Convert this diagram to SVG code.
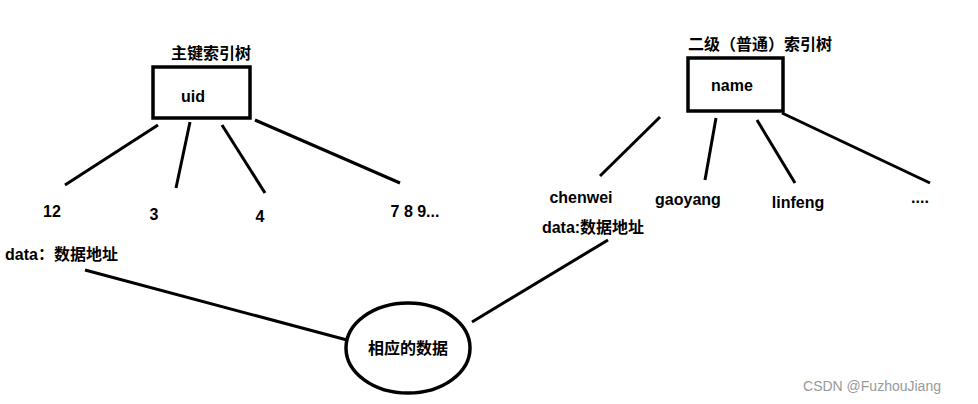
<svg xmlns="http://www.w3.org/2000/svg" width="978" height="404" viewBox="0 0 978 404">
<style>
text{font-family:"Liberation Sans","Noto Sans CJK SC",sans-serif;font-weight:bold;font-size:16px;fill:#000;text-anchor:middle}
text.s{text-anchor:start}
.e{stroke:#000;stroke-width:3;fill:none}
.n{stroke:#000;stroke-width:3.5;fill:#fff}
</style>
<rect width="978" height="404" fill="#fff"/>
<g id="connectors">
<line class="e" x1="158" y1="125" x2="65" y2="185"/>
<line class="e" x1="190" y1="122" x2="176" y2="188"/>
<line class="e" x1="222" y1="125" x2="265" y2="193"/>
<line class="e" x1="255" y1="120" x2="400" y2="183"/>
<line class="e" x1="660" y1="117" x2="600" y2="176"/>
<line class="e" x1="716" y1="118" x2="705" y2="180"/>
<line class="e" x1="757" y1="120" x2="795" y2="183"/>
<line class="e" x1="782" y1="113" x2="930" y2="183"/>
<line class="e" x1="85" y1="270" x2="347" y2="340"/>
<line class="e" x1="472" y1="322" x2="608" y2="240"/>
</g>
<g id="pk">
<text x="211" y="59" font-size="15">主键索引树</text>
<rect class="n" x="153" y="67" width="97" height="51"/>
<text x="193" y="102">uid</text>
</g>
<g id="sk">
<text x="760" y="50" font-size="15">二级（普通）索引树</text>
<rect class="n" x="688" y="58" width="95" height="53"/>
<text x="732" y="91">name</text>
</g>
<g id="leaves">
<text x="52" y="217">12</text>
<text x="154" y="220">3</text>
<text x="260" y="222">4</text>
<text x="415" y="217">7 8 9...</text>
<text class="s" x="5" y="260">data：数据地址</text>
<text x="581" y="203">chenwei</text>
<text x="688" y="205">gaoyang</text>
<text x="798" y="208">linfeng</text>
<text x="920" y="203">....</text>
<text x="593" y="233">data:数据地址</text>
</g>
<g id="data">
<ellipse class="n" cx="408" cy="348" rx="62" ry="45"/>
<text x="408" y="354">相应的数据</text>
</g>
<text x="872" y="391" style="font-weight:normal;font-size:14px;fill:#999">CSDN @FuzhouJiang</text>
</svg>
